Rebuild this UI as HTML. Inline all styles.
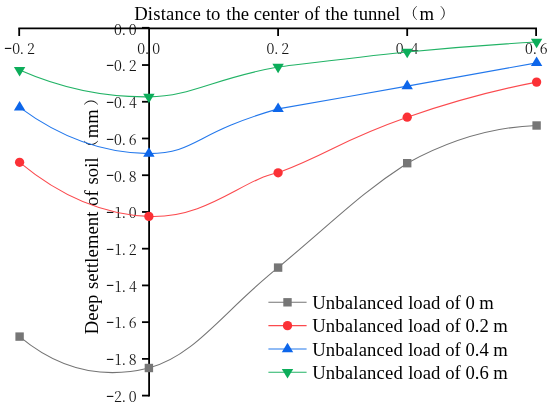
<!DOCTYPE html>
<html><head><meta charset="utf-8"><title>chart</title>
<style>
html,body{margin:0;padding:0;background:#fff;}
svg{display:block}
.t{font-family:"Liberation Serif","Noto Serif CJK SC",serif;font-size:18.67px;fill:#000;word-spacing:0.8px}
.p{font-family:"Noto Serif CJK SC","Liberation Serif",serif;font-size:15px;font-weight:300}
.k{font-family:"Noto Serif CJK SC","Liberation Serif",serif;font-size:14.1px;fill:#161616;font-weight:400}
.h{font-size:26px;font-weight:200}
</style></head><body>
<svg width="550" height="406" viewBox="0 0 550 406">
<rect width="550" height="406" fill="#fff"/>

<text class="k" text-anchor="middle"><tspan class="h" x="8.1" y="55.1">-</tspan><tspan x="16.1 21.9 30.9" y="54.4">0.2</tspan></text>
<text class="k" text-anchor="middle"><tspan x="141.3 147.1 156.1" y="54.4">0.0</tspan></text>
<text class="k" text-anchor="middle"><tspan x="270.5 276.3 285.3" y="54.4">0.2</tspan></text>
<text class="k" text-anchor="middle"><tspan x="399.8 405.6 414.6" y="54.4">0.4</tspan></text>
<text class="k" text-anchor="middle"><tspan x="529.0 534.8 543.8" y="54.4">0.6</tspan></text>
<text class="k" text-anchor="middle"><tspan x="118.0 123.8 132.8" y="34.6">0.0</tspan></text>
<text class="k" text-anchor="middle"><tspan class="h" x="110.0" y="72.0">-</tspan><tspan x="118.0 123.8 132.8" y="71.3">0.2</tspan></text>
<text class="k" text-anchor="middle"><tspan class="h" x="110.0" y="108.8">-</tspan><tspan x="118.0 123.8 132.8" y="108.1">0.4</tspan></text>
<text class="k" text-anchor="middle"><tspan class="h" x="110.0" y="145.5">-</tspan><tspan x="118.0 123.8 132.8" y="144.8">0.6</tspan></text>
<text class="k" text-anchor="middle"><tspan class="h" x="110.0" y="182.2">-</tspan><tspan x="118.0 123.8 132.8" y="181.5">0.8</tspan></text>
<text class="k" text-anchor="middle"><tspan class="h" x="110.0" y="219.0">-</tspan><tspan x="118.0 123.8 132.8" y="218.3">1.0</tspan></text>
<text class="k" text-anchor="middle"><tspan class="h" x="110.0" y="255.7">-</tspan><tspan x="118.0 123.8 132.8" y="255.0">1.2</tspan></text>
<text class="k" text-anchor="middle"><tspan class="h" x="110.0" y="292.4">-</tspan><tspan x="118.0 123.8 132.8" y="291.7">1.4</tspan></text>
<text class="k" text-anchor="middle"><tspan class="h" x="110.0" y="329.1">-</tspan><tspan x="118.0 123.8 132.8" y="328.4">1.6</tspan></text>
<text class="k" text-anchor="middle"><tspan class="h" x="110.0" y="365.9">-</tspan><tspan x="118.0 123.8 132.8" y="365.2">1.8</tspan></text>
<text class="k" text-anchor="middle"><tspan class="h" x="110.0" y="402.6">-</tspan><tspan x="118.0 123.8 132.8" y="401.9">2.0</tspan></text>
<g stroke="#000" stroke-width="1.8" fill="none">
<path d="M18.3,28.4 H537"/>
<path d="M149.1,27.5 V396.5"/>
<path d="M19.2,28.4 V36"/>
<path d="M278.1,28.4 V36"/>
<path d="M407.2,28.4 V36"/>
<path d="M536.1,28.4 V36"/>
<path d="M142,27.80 H149.1"/>
<path d="M142,65.03 H149.1"/>
<path d="M142,101.76 H149.1"/>
<path d="M142,138.49 H149.1"/>
<path d="M142,175.22 H149.1"/>
<path d="M142,211.95 H149.1"/>
<path d="M142,248.68 H149.1"/>
<path d="M142,285.41 H149.1"/>
<path d="M142,322.14 H149.1"/>
<path d="M142,358.87 H149.1"/>
<path d="M142,395.60 H149.1"/>
</g>
<text class="t" x="134.2" y="19.5"><tspan letter-spacing="0.2">Distance</tspan> <tspan dx="-0.6">to</tspan> <tspan dx="0.3">the</tspan> <tspan dx="-0.8">center</tspan> <tspan dx="-0.3">of</tspan> <tspan dx="-0.2">the</tspan> tunnel<tspan class="p" x="403.0" y="18.6">（</tspan><tspan x="419.6" y="19.5">m</tspan><tspan class="p" x="439.6" y="18.6">）</tspan></text>
<text class="t" transform="translate(98.2,333.5) rotate(-90)" x="-0.8" y="0" letter-spacing="0.09">Deep settlement of soil<tspan class="p" x="178.7" y="-0.9">（</tspan><tspan x="195.2" y="0">mm</tspan><tspan class="p" x="227.8" y="-0.9">）</tspan></text>
<path d="M19.60,336.60 C62.70,372.67 105.80,378.69 148.90,368.00 C195.70,355.50 224.20,310.29 278.10,267.60 C337.80,217.63 359.40,194.27 407.20,163.20 C450.33,139.49 493.47,126.92 536.60,125.50" fill="none" stroke="#747474" stroke-width="1.1"/>
<rect x="15.40" y="332.40" width="8.4" height="8.4" fill="#767676"/>
<rect x="144.70" y="363.80" width="8.4" height="8.4" fill="#767676"/>
<rect x="273.90" y="263.40" width="8.4" height="8.4" fill="#767676"/>
<rect x="403.00" y="159.00" width="8.4" height="8.4" fill="#767676"/>
<rect x="532.40" y="121.30" width="8.4" height="8.4" fill="#767676"/>
<path d="M19.60,162.30 C62.70,198.07 105.80,214.65 148.90,216.40 C207.30,218.68 243.10,178.82 278.10,172.80 C333.70,151.45 338.60,141.28 407.20,117.20 C450.33,102.07 493.47,90.37 536.60,82.10" fill="none" stroke="#fb4a4e" stroke-width="1.1"/>
<circle cx="19.60" cy="162.30" r="4.65" fill="#fb3136"/>
<circle cx="148.90" cy="216.40" r="4.65" fill="#fb3136"/>
<circle cx="278.10" cy="172.80" r="4.65" fill="#fb3136"/>
<circle cx="407.20" cy="117.20" r="4.65" fill="#fb3136"/>
<circle cx="536.60" cy="82.10" r="4.65" fill="#fb3136"/>
<path d="M19.60,107.40 C62.70,139.29 105.80,153.35 148.90,153.60 C197.10,152.97 192.50,133.38 278.10,108.90 C321.10,101.50 364.20,93.67 407.20,86.10 C450.33,78.42 493.47,70.69 536.60,62.90" fill="none" stroke="#2378ec" stroke-width="1.1"/>
<polygon points="13.90,110.60 25.30,110.60 19.60,101.10" fill="#0d66ea"/>
<polygon points="143.20,156.80 154.60,156.80 148.90,147.30" fill="#0d66ea"/>
<polygon points="272.40,112.10 283.80,112.10 278.10,102.60" fill="#0d66ea"/>
<polygon points="401.50,89.30 412.90,89.30 407.20,79.80" fill="#0d66ea"/>
<polygon points="530.90,66.10 542.30,66.10 536.60,56.60" fill="#0d66ea"/>
<path d="M19.60,70.10 C62.70,89.06 105.80,97.42 148.90,96.90 C191.40,96.39 215.20,77.94 278.10,67.00 C321.10,61.75 364.20,56.34 407.20,52.00 C450.33,47.83 493.47,44.50 536.60,42.00" fill="none" stroke="#22b366" stroke-width="1.1"/>
<polygon points="13.90,66.90 25.30,66.90 19.60,76.40" fill="#0cad5a"/>
<polygon points="143.20,93.70 154.60,93.70 148.90,103.20" fill="#0cad5a"/>
<polygon points="272.40,63.80 283.80,63.80 278.10,73.30" fill="#0cad5a"/>
<polygon points="401.50,48.80 412.90,48.80 407.20,58.30" fill="#0cad5a"/>
<polygon points="530.90,38.80 542.30,38.80 536.60,48.30" fill="#0cad5a"/>
<path d="M268.4,302.3 H306.6" stroke="#747474" stroke-width="1.1" fill="none"/>
<rect x="283.30" y="298.10" width="8.4" height="8.4" fill="#767676"/>
<text class="t" style="word-spacing:0.6px" x="312.2" y="308.8"><tspan letter-spacing="0.17">Unbalanced</tspan> <tspan dx="-0.1">load</tspan> <tspan dx="-0.3">of</tspan> <tspan dx="-0.6">0</tspan> <tspan dx="-0.7">m</tspan></text>
<path d="M268.4,325.65 H306.6" stroke="#fb4a4e" stroke-width="1.1" fill="none"/>
<circle cx="287.50" cy="325.65" r="4.65" fill="#fb3136"/>
<text class="t" style="word-spacing:0.6px" x="312.2" y="332.1"><tspan letter-spacing="0.17">Unbalanced</tspan> <tspan dx="-0.1">load</tspan> <tspan dx="-0.3">of</tspan> <tspan dx="-0.6">0.2</tspan> <tspan dx="-0.7">m</tspan></text>
<path d="M268.4,348.95 H306.6" stroke="#2378ec" stroke-width="1.1" fill="none"/>
<polygon points="281.80,352.15 293.20,352.15 287.50,342.65" fill="#0d66ea"/>
<text class="t" style="word-spacing:0.6px" x="312.2" y="355.5"><tspan letter-spacing="0.17">Unbalanced</tspan> <tspan dx="-0.1">load</tspan> <tspan dx="-0.3">of</tspan> <tspan dx="-0.6">0.4</tspan> <tspan dx="-0.7">m</tspan></text>
<path d="M268.4,372.3 H306.6" stroke="#22b366" stroke-width="1.1" fill="none"/>
<polygon points="281.80,369.10 293.20,369.10 287.50,378.60" fill="#0cad5a"/>
<text class="t" style="word-spacing:0.6px" x="312.2" y="378.6"><tspan letter-spacing="0.17">Unbalanced</tspan> <tspan dx="-0.1">load</tspan> <tspan dx="-0.3">of</tspan> <tspan dx="-0.6">0.6</tspan> <tspan dx="-0.7">m</tspan></text>
</svg></body></html>
